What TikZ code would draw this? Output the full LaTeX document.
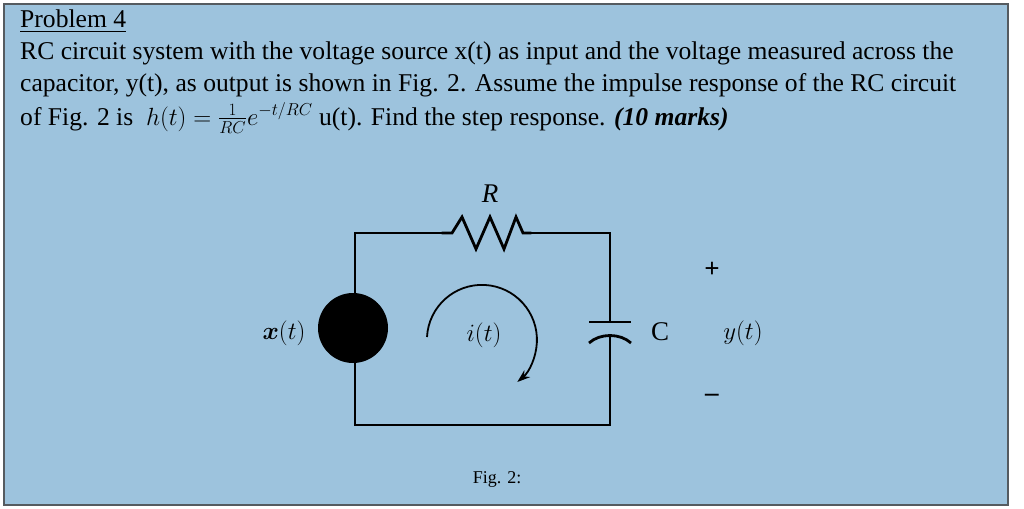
\documentclass[tikz,border=0pt]{standalone}
\usepackage{amsmath}
\usepackage{fontspec}
\setmainfont{Liberation Serif}
\usetikzlibrary{arrows.meta}
\definecolor{bg}{HTML}{9DC3DD}
\definecolor{frame}{HTML}{555B60}
\begin{document}
\begin{tikzpicture}[x=1pt,y=-1pt,
  wire/.style={line width=2.8pt,line cap=rect},
  txt/.style={anchor=base west,inner sep=0pt,font=\fontsize{25.6}{28}\selectfont},
  lab/.style={font=\fontsize{27}{30}\selectfont}]
\useasboundingbox (0,0) rectangle (1024,508);
\fill[white] (0,0) rectangle (1024,508);
\draw[fill=bg,draw=frame,line width=2pt] (4,4) rectangle (1008,505);
\node[txt] (p4) at (20,28) {\underline{Problem 4}};
\node[txt] (l2) at (20,60) {RC circuit system with the voltage source x(t) as input and the voltage measured across the};
\node[txt] (l3) at (20,92) {capacitor, y(t), as output is shown in Fig. 2. Assume the impulse response of the RC circuit};
\node[txt] (l4) at (20,125) {of Fig. 2 is \ $h(t)=\frac{1}{RC}e^{-t/RC}$ u(t). Find the step response. \textbf{\textit{(10 marks)}}};
% circuit
\coordinate (tl) at (355,233); \coordinate (tr) at (610,233);
\coordinate (bl) at (355,425); \coordinate (br) at (610,425);
\coordinate (ra) at (443,233); \coordinate (rb) at (530,233);
\draw[wire] (355,293) -- (tl) -- (ra);
\draw[wire,line join=miter] (ra) -- (452,233) -- (462,217) -- (476,249) -- (490,217) -- (504,249) -- (516,217) -- (523,233) -- (rb);
\draw[wire] (rb) -- (tr) -- (610,322);
\draw[wire] (610,338) -- (br) -- (bl) -- (355,363);
\node[circle,fill=black,minimum size=70pt,inner sep=0pt] (src) at (353,328) {};
\draw[line width=2.8pt] (589,322) -- (631,322);
\draw[line width=2.8pt] (589,343) .. controls (600,333) and (620,333) .. (631,343);
\node[lab,font=\fontsize{27}{30}\selectfont\itshape] (R) at (490,194) {R};
\node[lab] (C) at (660,332) {C};
\node[lab] (x) at (284,333) {$\boldsymbol{x}(t)$};
\node[lab] (i) at (484,335) {$i(t)$};
\node[lab] (y) at (743,333) {$y(t)$};
\node[lab,font=\bfseries\fontsize{27}{30}\selectfont] (plus) at (712,270) {+};
\node[lab] (minus) at (712,398) {\textbf{--}};
\draw[line width=1.8pt,-{Stealth[length=13pt,width=9pt]}] (427,337) arc[start angle=183,end angle=410,radius=55];
\node[font=\fontsize{18}{20}\selectfont] (fig) at (497,479) {Fig. 2:};
\end{tikzpicture}
\end{document}
